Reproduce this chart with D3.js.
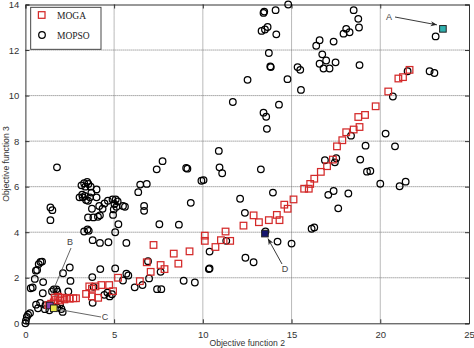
<!DOCTYPE html>
<html><head><meta charset="utf-8">
<script src="https://cdn.jsdelivr.net/npm/d3@7"></script>
<style>body{margin:0;background:#fff}svg{display:block}</style>
</head><body><svg id="c" width="474" height="348"></svg>
<script>
const xTicks=[0,5,10,15,20,25];
const yTicks=[0,2,4,6,8,10,12,14];
const seriesNames=["MOGA","MOPSO"];
const moga=[[1.30,0.80],[1.45,0.86],[1.60,0.92],[1.70,1.02],[1.65,1.13],[1.85,1.17],[1.95,1.00],[2.05,1.12],[2.2,1.05],[2.33,1.12],[2.5,1.08],[2.7,1.10],[2.85,1.10],
[3.42,1.29],[3.60,1.62],[3.75,1.52],[3.75,1.18],[3.95,1.62],[4.10,1.12],[4.28,1.68],[4.72,1.68],[4.94,1.41],[5.22,2.0],[6.45,1.85],[6.84,2.68],[7.06,2.26],[7.22,3.44],[7.62,2.56],[7.84,2.38],[8.36,3.06],[8.62,2.62],[9.25,3.16],[10.11,3.62],[10.11,3.85],[10.71,3.35],[11.02,3.65],[11.28,4.03],[11.54,3.62],[12.29,4.29],[12.86,4.74],[13.16,4.44],[13.72,4.53],[14.17,4.76],[14.32,4.53],[14.59,5.21],[14.78,5.03],[15.11,5.44],[15.71,5.91],[15.97,5.91],[16.05,6.12],[16.28,6.35],[16.65,6.65],[17.0,6.9],[17.33,7.19],[17.56,7.77],[17.86,8.04],[18.08,8.39],[18.5,8.51],[18.83,8.62],[18.76,9.06],[19.14,9.15],[19.74,9.53],[20.45,10.18],[21.02,10.75],[21.28,10.81],[21.65,11.13]];
const mopso=[[14.81,14.0],[13.46,13.69],[13.42,13.63],[14.1,13.75],[13.65,13.01],[13.5,12.9],[13.31,12.84],[14.14,12.69],[13.72,11.87],[13.8,11.28],[13.83,11.25],[12.52,10.69],[14.77,10.72],[15.34,11.25],[15.49,11.13],[15.53,10.25],[11.69,9.72],[13.42,9.25],[13.57,9.07],[14.29,9.6],[13.61,8.54],[10.9,7.57],
[18.5,13.75],[18.76,13.37],[18.8,12.99],[18.08,12.93],[18.27,12.78],[17.93,12.72],[17.37,12.37],[16.58,12.43],[16.39,12.19],[16.73,11.81],[16.95,11.54],[16.58,11.4],[16.8,11.19],[17.14,11.19],[17.48,11.46],[18.83,11.34],[22.78,11.07],[23.05,10.99],[23.12,12.6],[21.54,11.07],[20.71,9.96],
[18.35,8.24],[19.17,7.8],[20.3,8.33],[20.83,7.77],[16.88,7.16],[17.52,7.25],[17.44,7.07],[18.87,7.19],[19.25,6.66],[19.44,6.69],[20.0,6.13],[21.09,6.02],[21.43,6.22],[17.07,5.64],[17.37,5.81],[18.2,5.7],[17.63,5.05],
[9.06,6.82],[9.13,6.79],[10.94,6.85],[11.09,6.59],[13.27,6.76],[9.92,6.26],[10.04,6.29],[9.32,5.29],[12.1,5.47],[13.95,5.74],[12.37,4.85],[8.65,4.33],[10.38,3.15],[11.32,3.62],[13.53,4.03],[14.21,3.59],[15.0,3.5],[16.13,4.15],[16.28,4.21],[10.34,2.38],[10.38,2.41],[12.4,2.88],[12.86,2.68],[8.92,1.87],[9.55,1.79],
[1.78,6.85],[3.16,6.06],[3.31,6.15],[3.48,6.21],[3.55,6.12],[3.38,6.0],[3.68,6.0],[3.72,5.74],[4.01,5.88],
[3.05,5.53],[3.2,5.65],[3.23,5.53],[3.35,5.59],[3.42,5.41],[3.53,5.38],[3.64,5.53],[4.01,5.53],
[1.41,5.09],[1.52,4.97],[1.41,4.53],
[3.75,5.03],[4.16,5.15],[4.35,5.03],[4.46,5.26],[4.65,5.38],[4.91,5.44],[5.09,5.44],[5.2,5.35],[5.02,5.24],[5.13,5.12],[5.5,5.15],[5.61,5.12],[4.98,5.0],
[3.53,4.65],[3.83,4.65],[4.09,4.68],[4.2,4.74],[4.94,4.76],[5.24,4.35],[5.06,4.0],[3.31,4.03],[3.5,4.12],[3.57,4.06],
[3.79,3.65],[4.2,3.53],[4.68,3.56],[5.69,3.53],
[6.36,5.76],[6.47,6.09],[6.84,6.12],[6.69,5.15],[6.69,4.94],[7.55,4.35],[7.4,6.76],[7.73,7.12],
[0.94,2.71],[0.85,2.69],[0.75,2.6],[0.66,2.34],[0.59,2.31],[0.53,1.95],[0.41,1.57],[0.3,1.54],[1.0,1.81],
[2.5,2.45],[2.12,2.2],[2.54,1.86],[1.5,1.4],[1.6,1.49],[1.75,1.49],[1.8,1.39],[2.42,1.4],[0.98,1.32],
[0.6,0.82],[0.83,0.9],[1.13,0.8],[0.71,0.66],[1.35,0.57],[1.95,0.83],[2.03,0.63],[2.1,0.5],[1.8,0.69],[1.1,0.62],
[0.26,0.45],[0.15,0.38],[0.08,0.28],[0.03,0.12],[0.0,0.0],
[5.06,2.41],[5.69,2.18],[5.8,2.1],[5.5,1.88],[6.16,1.58],[6.6,1.68],[6.97,1.97],[6.91,2.73],[7.62,2.26],[7.42,1.5],[7.66,1.5],
[4.22,2.38],[3.77,2.03],[3.84,1.6],[3.79,0.9],[4.45,1.25],[4.62,1.35],[4.75,1.18],[4.88,1.28]];
const labelsPts=[{t:"A",p:[23.53,12.93],lx:389,ly:20,fill:"#2fb0ae",arrow:true},
{t:"D",p:[13.5,3.94],lx:285,ly:272,fill:"#14146e",arrow:true},
{t:"B",p:[1.38,0.78],lx:70,ly:245,fill:"#8a3fb0",arrow:false},
{t:"C",p:[1.6,0.66],lx:105,ly:320,fill:"#e6e64a",arrow:false}];

const svg=d3.select("#c");
const L=25.4,R=469,T=4.5,B=323.3;
const x=d3.scaleLinear().domain([0,25]).range([L,R]);
const y=d3.scaleLinear().domain([0,14]).range([B,T]);

// grid
const g=svg.append("g");
g.selectAll("line.gx").data(xTicks.slice(1,-1)).join("line")
 .attr("x1",d=>x(d)).attr("x2",d=>x(d)).attr("y1",T).attr("y2",B)
 .attr("stroke","#666").attr("stroke-width",0.9).attr("stroke-dasharray","1,1");
g.selectAll("line.gy").data(yTicks.slice(1,-1)).join("line")
 .attr("y1",d=>y(d)).attr("y2",d=>y(d)).attr("x1",L).attr("x2",R)
 .attr("stroke","#666").attr("stroke-width",0.9).attr("stroke-dasharray","1,1");

// axes
svg.append("g").attr("transform",`translate(0,${B})`)
 .call(d3.axisBottom(x).tickValues(xTicks).tickSize(-4).tickPadding(8).tickFormat(d3.format("d")));
svg.append("g").attr("transform",`translate(${L},0)`)
 .call(d3.axisLeft(y).tickValues(yTicks).tickSize(-4).tickPadding(6).tickFormat(d3.format("d")));
svg.append("g").attr("transform",`translate(0,${T})`).call(d3.axisTop(x).tickValues(xTicks).tickSize(-4).tickFormat(""));
svg.append("g").attr("transform",`translate(${R},0)`).call(d3.axisRight(y).tickValues(yTicks).tickSize(-4).tickFormat(""));
svg.selectAll(".domain").attr("stroke","#333");
svg.selectAll(".tick line").attr("stroke","#333");
svg.selectAll(".tick text").attr("font-family","Liberation Sans, Arial, sans-serif").attr("font-size",9.5).attr("fill","#333");

svg.append("text").attr("x",(L+R)/2).attr("y",346).attr("text-anchor","middle")
 .attr("font-family","Liberation Sans, Arial, sans-serif").attr("font-size",8.6).attr("fill","#333").text("Objective function 2");
svg.append("text").attr("transform",`translate(8.8,${(T+B)/2}) rotate(-90)`).attr("text-anchor","middle")
 .attr("font-family","Liberation Sans, Arial, sans-serif").attr("font-size",8.6).attr("fill","#333").text("Objective function 3");

// markers
const S=6.6;
svg.append("g").selectAll("circle").data(mopso).join("circle")
 .attr("cx",d=>x(d[0])).attr("cy",d=>y(d[1])).attr("r",3.3)
 .attr("fill","none").attr("stroke","#000").attr("stroke-width",1.25);
svg.append("g").selectAll("rect").data(moga).join("rect")
 .attr("x",d=>x(d[0])-S/2).attr("y",d=>y(d[1])-S/2).attr("width",S).attr("height",S)
 .attr("fill","none").attr("stroke","#d42a2a").attr("stroke-width",1.25);

// annotations
const defs=svg.append("defs");
defs.append("marker").attr("id","ah").attr("viewBox","0 0 10 10").attr("refX",10).attr("refY",5)
 .attr("markerWidth",7).attr("markerHeight",7).attr("orient","auto-start-reverse")
 .append("path").attr("d","M0,1 L10,5 L0,9 L3,5 Z").attr("fill","#222");
labelsPts.forEach(a=>{
  const px=x(a.p[0]),py=y(a.p[1]);
  let sx,sy,ex,ey;
  if(a.t==="A"){sx=a.lx+6;sy=a.ly-3;ex=px-6;ey=py-4;}
  else if(a.t==="D"){sx=a.lx-3;sy=a.ly-8;ex=px+3;ey=py+5;}
  else if(a.t==="B"){sx=a.lx+1;sy=a.ly+3;ex=px+2;ey=py-12;}
  else {sx=a.lx-4;sy=a.ly-3;ex=px+4;ey=py+1;}
  svg.append("line").attr("x1",sx).attr("y1",sy).attr("x2",ex).attr("y2",ey)
   .attr("stroke",a.arrow?"#222":"#555").attr("stroke-width",0.9)
   .attr("marker-end",a.arrow?"url(#ah)":null);
  svg.append("rect").attr("x",px-3.3).attr("y",py-3.3).attr("width",6.6).attr("height",6.6)
   .attr("fill",a.fill).attr("stroke","#222").attr("stroke-width",1);
  svg.append("text").attr("x",a.lx).attr("y",a.ly).attr("text-anchor","middle")
   .attr("font-family","Liberation Sans, Arial, sans-serif").attr("font-size",9).attr("fill","#444").text(a.t);
});

// legend
const lg=svg.append("g");
lg.append("rect").attr("x",30.7).attr("y",7.3).attr("width",70.3).attr("height",42)
 .attr("fill","#fff").attr("stroke","#333").attr("stroke-width",0.9);
lg.append("rect").attr("x",41.7-S/2).attr("y",15-S/2).attr("width",S).attr("height",S)
 .attr("fill","none").attr("stroke","#d42a2a").attr("stroke-width",1.25);
lg.append("circle").attr("cx",42).attr("cy",35).attr("r",3.3)
 .attr("fill","none").attr("stroke","#000").attr("stroke-width",1.25);
lg.selectAll("text").data(seriesNames).join("text")
 .attr("x",57).attr("y",(d,i)=>i?39:18.5)
 .attr("font-family","Liberation Serif, Times New Roman, serif").attr("font-size",9.5).attr("fill","#222").text(d=>d);
</script></body></html>
